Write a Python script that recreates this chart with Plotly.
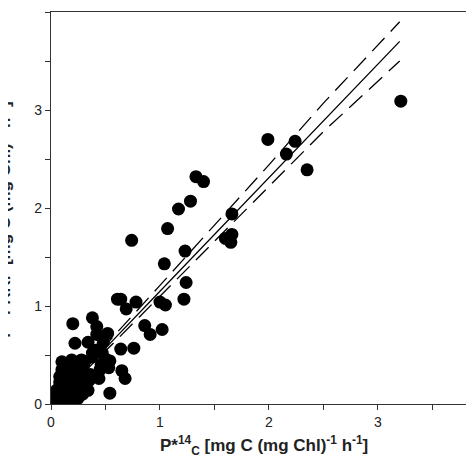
import plotly.graph_objects as go

px_c14 = [3.21,1.99,2.24,2.16,2.35,1.33,1.40,1.28,1.17,1.66,1.07,0.74,1.60,1.66,1.65,1.23,1.04,1.24,1.22,1.00,1.05,
          0.61,0.64,0.78,0.69,0.86,0.91,1.02,0.76,0.64,0.38,0.20,0.22,0.42,0.42,0.52,0.34,0.48,0.38,0.47,0.54,0.53,
          0.65,0.68,0.54,0.44,0.10,0.19,0.28,0.10,
          0.05,0.08,0.12,0.15,0.18,0.22,0.25,0.30,0.33,0.36,0.40,0.45,0.02,0.04,0.06,0.09,0.11,0.14,0.16,0.20,
          0.24,0.27,0.31,0.35,0.03,0.07,0.10,0.13,0.17,0.19,0.23,0.26,0.29,0.01,0.05,0.08,0.12,0.15,0.18,0.21,
          0.06,0.09,0.14,0.17,0.21,0.25,0.28,0.32,0.12,0.16,0.20,0.24,0.38,0.42,0.46,0.50,0.30,0.34,0.08,0.13]
pf_frrf = [3.09,2.70,2.68,2.55,2.39,2.32,2.27,2.07,1.99,1.94,1.79,1.67,1.69,1.73,1.65,1.56,1.43,1.24,1.07,1.04,1.01,
           1.07,1.07,1.04,0.97,0.80,0.71,0.76,0.57,0.56,0.88,0.82,0.62,0.79,0.71,0.72,0.63,0.63,0.52,0.52,0.44,0.37,
           0.34,0.26,0.11,0.26,0.43,0.45,0.45,0.35,
           0.05,0.08,0.10,0.12,0.15,0.18,0.20,0.22,0.25,0.30,0.28,0.35,0.02,0.04,0.10,0.14,0.16,0.20,0.24,0.28,
           0.30,0.33,0.18,0.24,0.01,0.06,0.20,0.25,0.32,0.38,0.12,0.15,0.10,0.00,0.14,0.22,0.30,0.05,0.03,0.08,
           0.00,0.18,0.36,0.42,0.26,0.06,0.12,0.30,0.02,0.26,0.35,0.10,0.48,0.55,0.40,0.46,0.40,0.14,0.28,0.00]

line_x = [0.28, 0.5, 1.0, 1.5, 2.0, 2.5, 3.2]
fit_y = [0.32, 0.57, 1.15, 1.73, 2.31, 2.89, 3.70]
upper_y = [0.34, 0.60, 1.21, 1.82, 2.44, 3.07, 3.90]
lower_y = [0.30, 0.54, 1.10, 1.66, 2.22, 2.78, 3.50]

fig = go.Figure()
for yy, dash in [(upper_y, "18px,9px"), (lower_y, "18px,9px"), (fit_y, "solid")]:
    fig.add_trace(go.Scatter(x=line_x, y=yy, mode="lines",
                             line=dict(color="black", width=1.3, dash=dash), showlegend=False))
fig.add_trace(go.Scatter(x=px_c14, y=pf_frrf, mode="markers",
                         marker=dict(color="black", size=13), showlegend=False))

axis = dict(showgrid=False, zeroline=False, showline=True, linecolor="#333", linewidth=1.2,
            ticks="outside", ticklen=5, tickcolor="#333", dtick=1, mirror=True,
            minor=dict(dtick=0.5, ticks="outside", ticklen=5, tickcolor="#333"),
            tickfont=dict(family="Liberation Sans, Arial", size=14, color="#222"))
fig.update_layout(
    width=474, height=474, margin=dict(l=43, r=6, t=4, b=78),
    plot_bgcolor="white", paper_bgcolor="white",
    xaxis=dict(range=[0, 3.9], **axis),
    yaxis=dict(range=[0, 4], **axis),
    annotations=[
        dict(text="<b>P*<sup>14</sup><sub>C</sub> [mg C (mg Chl)<sup>-1</sup> h<sup>-1</sup>]</b>",
             xref="paper", yref="paper", x=(262-49)/425, y=-0.07, xanchor="center", yanchor="top",
             showarrow=False, font=dict(family="Liberation Sans, Arial", size=17, color="#222")),
        dict(text="<b>P* FRRF [mg C (mg Chl)<sup>-1</sup> h<sup>-1</sup>]</b>", textangle=-90,
             xref="paper", yref="paper", x=0, xshift=-48, y=0.47, xanchor="center", yanchor="middle",
             showarrow=False, font=dict(family="Liberation Sans, Arial", size=17, color="#222")),
    ],
)
fig.write_html("out.html")
